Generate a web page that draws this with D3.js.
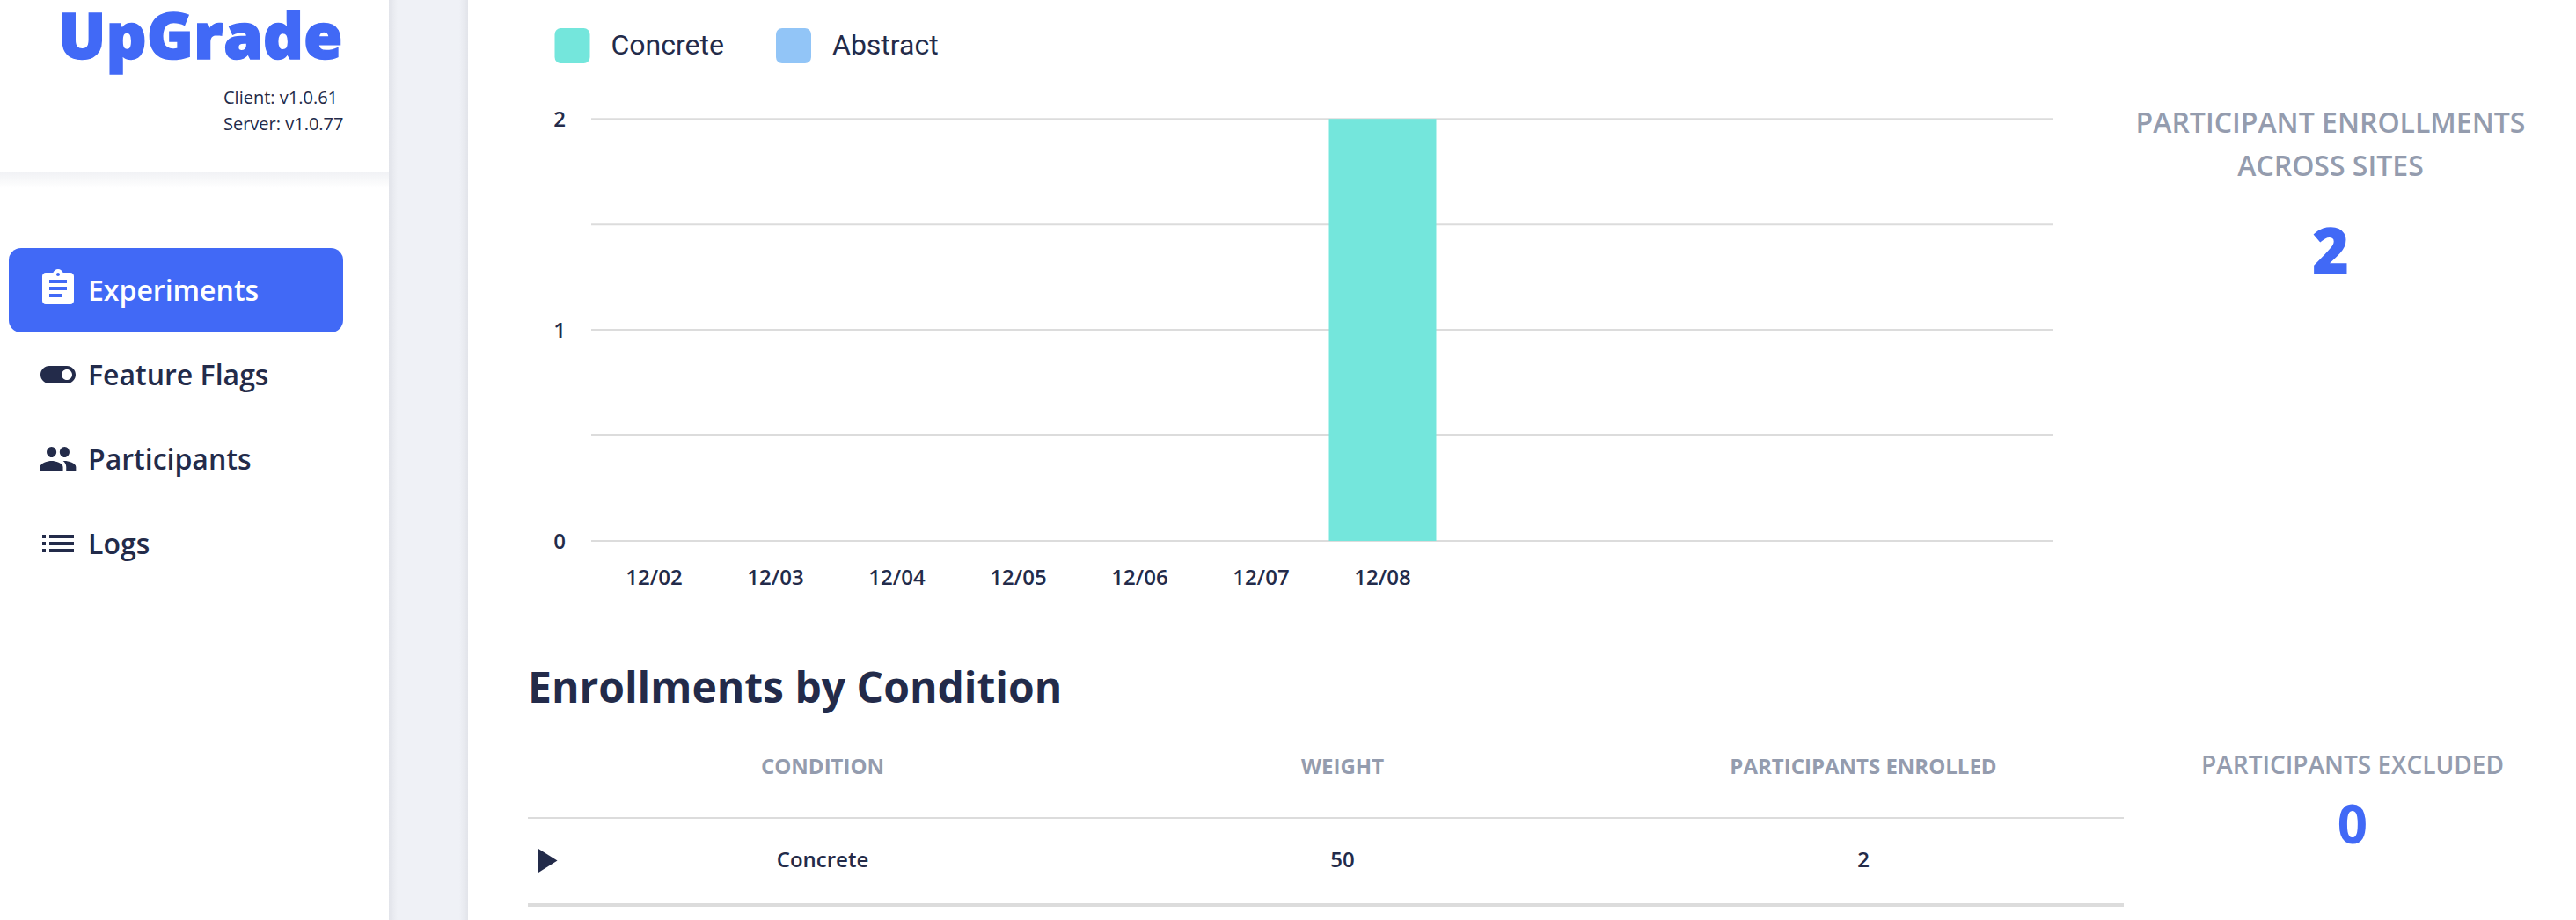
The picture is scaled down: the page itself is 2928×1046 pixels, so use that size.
<!DOCTYPE html>
<html>
  <head>
    <title>UpGrade Enrollments</title>
    <script src="https://d3js.org/d3.v7.min.js"></script>
    <style>
      html, body { margin: 0; padding: 0; background: #fff; overflow: hidden; }
      svg { display: block; }
      text { font-family: "Open Sans", sans-serif; }
    </style>
  </head>
  <body>
    <div id="page"></div>
    <script>
      // chart values
      var dates = ["12/02", "12/03", "12/04", "12/05", "12/06", "12/07", "12/08"];
      var concrete = [0, 0, 0, 0, 0, 0, 2];
      var abstractCond = [0, 0, 0, 0, 0, 0, 0];
      var legendNames = ["Concrete", "Abstract"];
      var legendColors = ["#74e6dc", "#92c5f7"];
      var yGrid = [0, 0.5, 1, 1.5, 2];
      var yLabels = [0, 1, 2];
      var emptySlots = 5; // the axis leaves room for days with no label

      // table values
      var tableHeaders = ["CONDITION", "WEIGHT", "PARTICIPANTS ENROLLED"];
      var tableRow = ["Concrete", "50", "2"];
      var enrollmentsTotal = 2;
      var excludedTotal = 0;

      // side menu
      var menuNames = ["Experiments", "Feature Flags", "Participants", "Logs"];

      var blue = "#4169f6", navy = "#232b4a", grey = "#949cae", line = "#dcdcdc";

      var svg = d3.select("#page").append("svg")
        .attr("width", 2928).attr("height", 1046);

      var defs = svg.append("defs");
      function fade(id, x2, y2, from, to) {
        var g = defs.append("linearGradient").attr("id", id)
          .attr("x1", 0).attr("y1", 0).attr("x2", x2).attr("y2", y2);
        g.append("stop").attr("offset", 0).attr("stop-color", from);
        g.append("stop").attr("offset", 1).attr("stop-color", to);
      }
      fade("headShadow", 0, 1, "#f1f2f5", "#ffffff");
      fade("sideShadow", 1, 0, "#e2e4ea", "#eff1f6");
      fade("mainShadow", 1, 0, "#eff1f6", "#e2e4ea");

      // page background and the two shadows
      svg.append("rect").attr("x", 442).attr("y", 0).attr("width", 90).attr("height", 1046).attr("fill", "#eff1f6");
      svg.append("rect").attr("x", 442).attr("y", 0).attr("width", 10).attr("height", 1046).attr("fill", "url(#sideShadow)");
      svg.append("rect").attr("x", 522).attr("y", 0).attr("width", 10).attr("height", 1046).attr("fill", "url(#mainShadow)");
      svg.append("rect").attr("x", 0).attr("y", 196).attr("width", 442).attr("height", 18).attr("fill", "url(#headShadow)");

      // logo
      svg.append("text").attr("x", 66).attr("y", 67)
        .attr("font-size", 72).attr("font-weight", 800).attr("fill", blue)
        .attr("stroke", blue).attr("stroke-width", 1.5).text("UpGrade");
      svg.append("text").attr("x", 254).attr("y", 118)
        .attr("font-size", 20).attr("fill", navy).text("Client: v1.0.61");
      svg.append("text").attr("x", 254).attr("y", 148)
        .attr("font-size", 20).attr("fill", navy).text("Server: v1.0.77");

      // menu
      svg.append("rect").attr("x", 10).attr("y", 282).attr("width", 380).attr("height", 96)
        .attr("rx", 14).attr("fill", blue);

      var menuIcons = [
        "M19 3h-4.18C14.4 1.84 13.3 1 12 1c-1.3 0-2.4.84-2.82 2H5c-1.1 0-2 .9-2 2v14c0 1.1.9 2 2 2h14c1.1 0 2-.9 2-2V5c0-1.1-.9-2-2-2zm-7 0c.55 0 1 .45 1 1s-.45 1-1 1-1-.45-1-1 .45-1 1-1zm2 14H7v-2h7v2zm3-4H7v-2h10v2zm0-4H7V7h10v2z",
        "M17 7H7c-2.76 0-5 2.24-5 5s2.24 5 5 5h10c2.76 0 5-2.24 5-5s-2.24-5-5-5zm0 8c-1.66 0-3-1.34-3-3s1.34-3 3-3 3 1.34 3 3-1.34 3-3 3z",
        "M16 11c1.66 0 2.99-1.34 2.99-3S17.66 5 16 5c-1.66 0-3 1.34-3 3s1.34 3 3 3zm-8 0c1.66 0 2.99-1.34 2.99-3S9.66 5 8 5C6.34 5 5 6.34 5 8s1.34 3 3 3zm0 2c-2.33 0-7 1.17-7 3.5V19h14v-2.5c0-2.33-4.67-3.5-7-3.5zm8 0c-.29 0-.62.02-.97.05 1.16.84 1.97 1.97 1.97 3.45V19h6v-2.5c0-2.33-4.67-3.5-7-3.5z",
        "M3 13h2v-2H3v2zm0 4h2v-2H3v2zm0-8h2V7H3v2zm4 4h14v-2H7v2zm0 4h14v-2H7v2zM7 7v2h14V7H7z"
      ];
      var iconY = [328, 426, 522, 618];
      var textY = [342, 438, 534, 630];

      menuNames.forEach(function(name, i) {
        var c = i == 0 ? "#ffffff" : navy;
        svg.append("path").attr("d", menuIcons[i]).attr("fill", c)
          .attr("transform", "translate(66," + iconY[i] + ") scale(" + (i == 2 ? 1.85 : 2) + "," + 2 + ") translate(-12,-12)");
        svg.append("text").attr("x", 100).attr("y", textY[i])
          .attr("font-size", 32).attr("font-weight", 600).attr("fill", c).text(name);
      });

      // legend
      var legendX = [630.5, 882];
      legendNames.forEach(function(name, i) {
        svg.append("rect").attr("x", legendX[i]).attr("y", 32).attr("width", 40).attr("height", 40)
          .attr("rx", 7).attr("fill", legendColors[i]);
        svg.append("text").attr("x", legendX[i] + 64).attr("y", 62)
          .style("font-family", "Roboto").attr("font-size", 32).attr("fill", navy).text(name);
      });

      // chart
      var slots = d3.range(dates.length + emptySlots);
      var xScale = d3.scaleBand().domain(slots).range([674.5, 2330.5]).paddingInner(0.116).paddingOuter(0.058);
      var yScale = d3.scaleLinear().domain([0, 2]).range([615, 135.2]);

      svg.append("g").selectAll("line").data(yGrid).enter().append("line")
        .attr("x1", 672).attr("x2", 2334)
        .attr("y1", function(d) { return yScale(d); })
        .attr("y2", function(d) { return yScale(d); })
        .attr("stroke", line).attr("stroke-width", 2);

      var stack = d3.stack().keys(["concrete", "abstract"])(dates.map(function(d, i) {
        return { slot: i, concrete: concrete[i], abstract: abstractCond[i] };
      }));

      svg.append("g").selectAll("g").data(stack).enter().append("g")
        .attr("fill", function(d, i) { return legendColors[i]; })
        .selectAll("rect").data(function(d) { return d; }).enter().append("rect")
        .attr("x", function(d) { return xScale(d.data.slot); })
        .attr("width", xScale.bandwidth())
        .attr("y", function(d) { return yScale(d[1]); })
        .attr("height", function(d) { return yScale(d[0]) - yScale(d[1]); });

      svg.append("g").selectAll("text").data(yLabels).enter().append("text")
        .attr("x", 636).attr("text-anchor", "middle")
        .attr("y", function(d) { return yScale(d) + 9; })
        .attr("font-size", 24).attr("font-weight", 600).attr("fill", navy)
        .text(function(d) { return d; });

      svg.append("g").selectAll("text").data(dates).enter().append("text")
        .attr("x", function(d, i) { return xScale(i) + xScale.bandwidth() / 2; })
        .attr("y", 665).attr("text-anchor", "middle")
        .attr("font-size", 24).attr("font-weight", 600).attr("fill", navy)
        .text(function(d) { return d; });

      // enrollments total on the right
      svg.append("text").attr("x", 2649).attr("y", 151).attr("text-anchor", "middle")
        .attr("font-size", 32).attr("font-weight", 600).attr("fill", grey).text("PARTICIPANT ENROLLMENTS");
      svg.append("text").attr("x", 2649).attr("y", 199.5).attr("text-anchor", "middle")
        .attr("font-size", 32).attr("font-weight", 600).attr("fill", grey).text("ACROSS SITES");
      svg.append("text").attr("x", 2649).attr("y", 311).attr("text-anchor", "middle")
        .attr("font-size", 72).attr("font-weight", 800).attr("fill", blue).text(enrollmentsTotal);

      // table
      svg.append("text").attr("x", 600).attr("y", 798.5)
        .attr("font-size", 48).attr("font-weight", 700).attr("fill", navy).text("Enrollments by Condition");

      var columnX = [935, 1526, 2118];
      tableHeaders.forEach(function(h, i) {
        svg.append("text").attr("x", columnX[i]).attr("y", 880).attr("text-anchor", "middle")
          .attr("font-size", 24).attr("font-weight", 700).attr("fill", grey).text(h);
        svg.append("text").attr("x", columnX[i]).attr("y", 986).attr("text-anchor", "middle")
          .attr("font-size", 24).attr("font-weight", 600).attr("fill", navy).text(tableRow[i]);
      });

      svg.append("rect").attr("x", 600).attr("y", 929).attr("width", 1814).attr("height", 2).attr("fill", line);
      svg.append("rect").attr("x", 600).attr("y", 1027).attr("width", 1814).attr("height", 4).attr("fill", line);
      svg.append("path").attr("d", "M612 965L633.5 978.5L612 992Z").attr("fill", navy);

      // excluded total
      svg.append("text").attr("x", 2674).attr("y", 880).attr("text-anchor", "middle")
        .attr("font-size", 28).attr("font-weight", 600).attr("fill", grey).text("PARTICIPANTS EXCLUDED");
      svg.append("text").attr("x", 2674).attr("y", 958.5).attr("text-anchor", "middle")
        .attr("font-size", 60).attr("font-weight", 700).attr("fill", blue).text(excludedTotal);
    </script>
  </body>
</html>
